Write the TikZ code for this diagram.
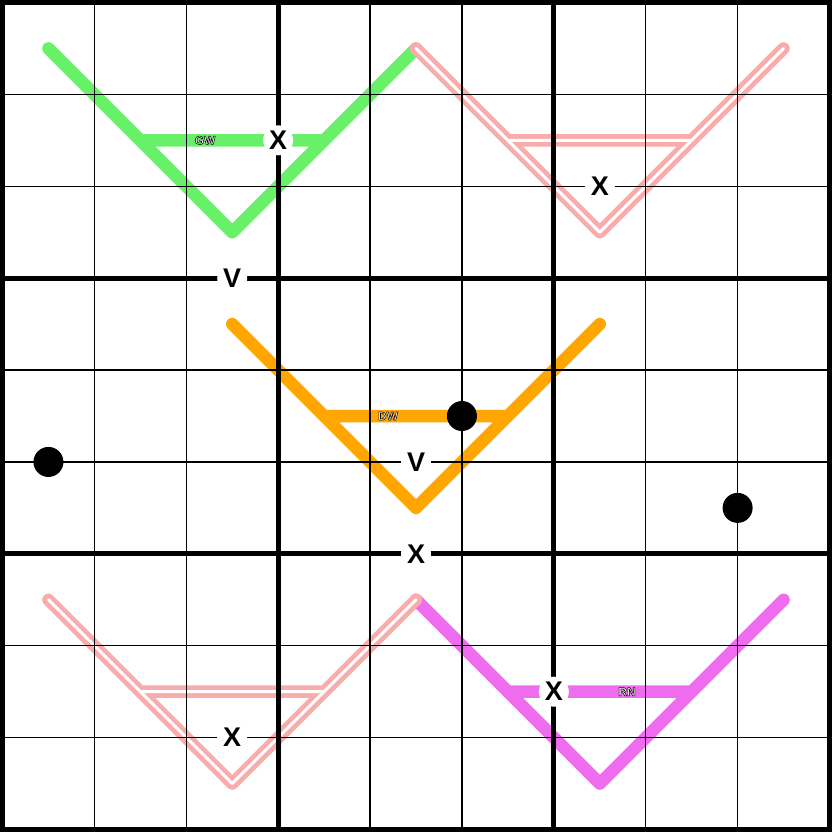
\documentclass[tikz,border=0pt]{standalone}
\usepackage{fontspec}
\setmainfont{Liberation Sans}
\newfontfamily\lblfont[FakeBold=4.5]{Liberation Sans Bold}
\definecolor{gwcol}{RGB}{105,240,105}
\definecolor{dwcol}{RGB}{255,166,0}
\definecolor{rncol}{RGB}{238,108,238}
\definecolor{pinkcol}{RGB}{248,172,172}
\newcommand{\olbl}[1]{{\color{white}\special{pdf:literal direct 0 0 0 RG}\lblfont #1}}
\tikzset{
  route/.style={line width=12.5pt, line cap=round, line join=round},
  ghost/.style={draw=pinkcol, line width=4.7pt, double=white, double distance=3pt, line cap=round, line join=round},
  thinl/.style={line width=1.2pt, draw=black},
  thickl/.style={line width=5pt, draw=black},
  bigl/.style={circle, fill=white, inner sep=0pt, minimum size=30pt, font=\fontsize{27}{27}\selectfont\bfseries},
  smalll/.style={inner sep=0pt, font=\fontsize{12}{12}\selectfont},
  blackdot/.style={circle, fill=black, inner sep=0pt, minimum size=30pt}
}
\begin{document}
\begin{tikzpicture}[x=91.89pt, y=-91.89pt]
\path[use as bounding box, fill=white] ([shift={(-2.5pt,2.5pt)}]0,0) rectangle ([shift={(2.5pt,-2.5pt)}]9,9);
% routes
\draw[route, gwcol] (0.5,0.5) -- (2.5,2.5) -- (4.5,0.5) (1.5,1.5) -- (3.5,1.5);
\draw[ghost] (4.5,0.5) -- (6.5,2.5) -- (8.5,0.5) (5.5,1.5) -- (7.5,1.5);
\draw[route, dwcol] (2.5,3.5) -- (4.5,5.5) -- (6.5,3.5) (3.5,4.5) -- (5.5,4.5);
\draw[route, rncol] (4.5,6.5) -- (6.5,8.5) -- (8.5,6.5) (5.5,7.5) -- (7.5,7.5);
\draw[ghost] (0.5,6.5) -- (2.5,8.5) -- (4.5,6.5) (1.5,7.5) -- (3.5,7.5);
% grid
\foreach \i in {1,2,4,5,7,8} {
  \draw[thinl] (\i,0) -- (\i,9);
  \draw[thinl] (0,\i) -- (9,\i);
}
\draw[thickl] (3,0) -- (3,9) (6,0) -- (6,9) (0,3) -- (9,3) (0,6) -- (9,6);
\draw[thickl] (0,0) rectangle (9,9);
% dots
\node[blackdot] (d1) at (0.5,5) {};
\node[blackdot] (d2) at (5,4.5) {};
\node[blackdot] (d3) at (8,5.5) {};
% small labels
\node[smalll] (gw) at (2.204,1.5) {\olbl{GW}};
\node[smalll] (dw) at (4.195,4.5) {\olbl{DW}};
\node[smalll] (rn) at (6.796,7.5) {\olbl{RN}};
% big labels
\node[bigl] (x1) at (3,1.5) {X};
\node[bigl] (x2) at (6.5,2) {X};
\node[bigl] (v1) at (2.5,3) {V};
\node[bigl] (v2) at (4.5,5) {V};
\node[bigl] (x3) at (4.5,6) {X};
\node[bigl] (x4) at (6,7.5) {X};
\node[bigl] (x5) at (2.5,8) {X};
\end{tikzpicture}
\end{document}
